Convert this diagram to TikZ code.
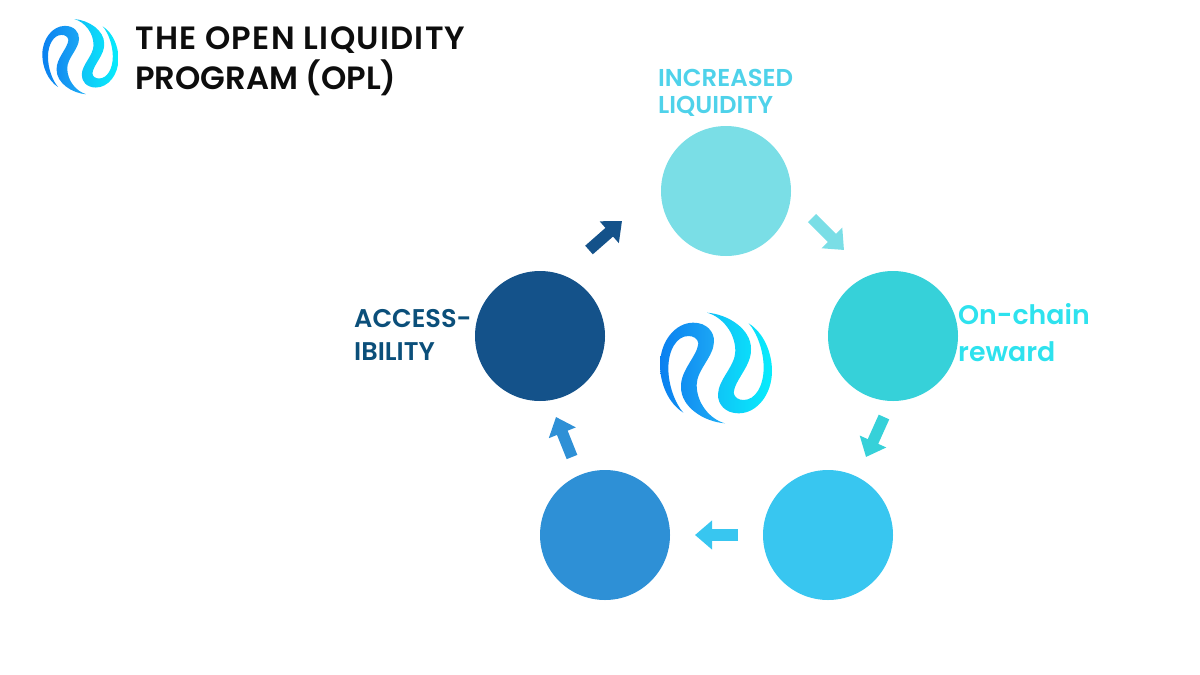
\documentclass[tikz,border=0pt]{standalone}
\usepackage{fontspec}
\setmainfont{Poppins}[BoldFont={Poppins SemiBold}]
\usetikzlibrary{arrows.meta}
\definecolor{incrcol}{HTML}{7ADEE6}
\definecolor{chaincol}{HTML}{36D1D9}
\definecolor{lowrcol}{HTML}{38C6F0}
\definecolor{lowlcol}{HTML}{2E90D6}
\definecolor{accscol}{HTML}{14528A}
\definecolor{incrtext}{HTML}{4FD2EA}
\definecolor{chaintext}{HTML}{2EE2EE}
\definecolor{accstext}{HTML}{0B4F7A}
\definecolor{logoa}{HTML}{0A80F0}
\definecolor{logob}{HTML}{1FAEF5}
\definecolor{logoc}{HTML}{10BEF6}
\definecolor{logod}{HTML}{08ECFC}
\tikzset{
  stage/.style={circle,minimum size=130pt,inner sep=0pt,fill=#1},
  flow/.style={draw=#1,line width=11.5pt,-{Triangle[length=17pt,width=28pt,fill=#1]}},
  lab/.style={anchor=base west,align=left,inner sep=0pt,font=\bfseries\fontsize{#1}{#1}\selectfont},
  opllogo/.pic={
    \begin{scope}[shift={(-228,-204)}]
    \path[left color=logoa,right color=logob] (130,338) ..
      controls (85,310) and (60,250) .. (60,195) ..
      controls (60,125) and (105,68) .. (160,68) ..
      controls (200,68) and (223,95) .. (222,125) ..
      controls (221,170) and (170,210) .. (170,255) ..
      controls (170,310) and (210,358) .. (255,370) ..
      controls (190,365) and (123,320) .. (123,262) ..
      controls (120,212) and (172,168) .. (175,130) ..
      controls (173,115) and (160,108) .. (145,108) ..
      controls (110,108) and (85,150) .. (85,205) ..
      controls (85,255) and (105,310) .. (130,338) -- cycle;
    \path[left color=logoc,right color=logod] (326,70) ..
      controls (371,98) and (396,158) .. (396,213) ..
      controls (396,283) and (351,340) .. (296,340) ..
      controls (256,340) and (233,313) .. (234,283) ..
      controls (235,238) and (286,198) .. (286,153) ..
      controls (286,98) and (246,50) .. (201,38) ..
      controls (266,43) and (333,88) .. (333,146) ..
      controls (336,196) and (284,240) .. (281,278) ..
      controls (283,293) and (296,300) .. (311,300) ..
      controls (346,300) and (371,258) .. (371,203) ..
      controls (371,153) and (351,98) .. (326,70) -- cycle;
    \end{scope}
  }
}
\begin{document}
\begin{tikzpicture}[x=1pt,y=-1pt]
\useasboundingbox (0,0) rectangle (1200,675);
% logos
\pic (smalllogo) [scale=0.2267] at (80.4,56.7) {opllogo};
\pic (biglogo) [scale=0.3333] at (716,368) {opllogo};
% title
\node[lab=32.2,text=black!95] (title) at (135,89) {\addfontfeature{LetterSpace=3.9}THE OPEN LIQUIDITY\\[4.8pt]PROGRAM (OPL)};
% stages
\node[stage=incrcol] (incr) at (726,191) {};
\node[stage=chaincol] (chain) at (893,336) {};
\node[stage=lowrcol] (lowr) at (828,535) {};
\node[stage=lowlcol] (lowl) at (605,535) {};
\node[stage=accscol] (accs) at (540,336) {};
% labels
\node[lab=24.4,text=incrtext] (incrlab) at (658,113) {INCREASED\\[2.6pt]LIQUIDITY};
\node[lab=26.8,text=chaintext] (chainlab) at (958,361) {On-chain\\[10.2pt]reward};
\node[lab=25.6,text=accstext] (accslab) at (354,360) {ACCESS-\\[7.4pt]IBILITY};
% arrow ends
\coordinate (a1) at (812,218);  \coordinate (b1) at (844,250);
\coordinate (a2) at (884,417);  \coordinate (b2) at (866,457);
\coordinate (a3) at (738,535);  \coordinate (b3) at (695,535);
\coordinate (a4) at (572,457);  \coordinate (b4) at (556,417);
\coordinate (a5) at (589,250);  \coordinate (b5) at (622,221);
\draw[flow=incrcol] (a1) -- (b1);
\draw[flow=chaincol] (a2) -- (b2);
\draw[flow=lowrcol] (a3) -- (b3);
\draw[flow=lowlcol] (a4) -- (b4);
\draw[flow=accscol] (a5) -- (b5);
\end{tikzpicture}
\end{document}
